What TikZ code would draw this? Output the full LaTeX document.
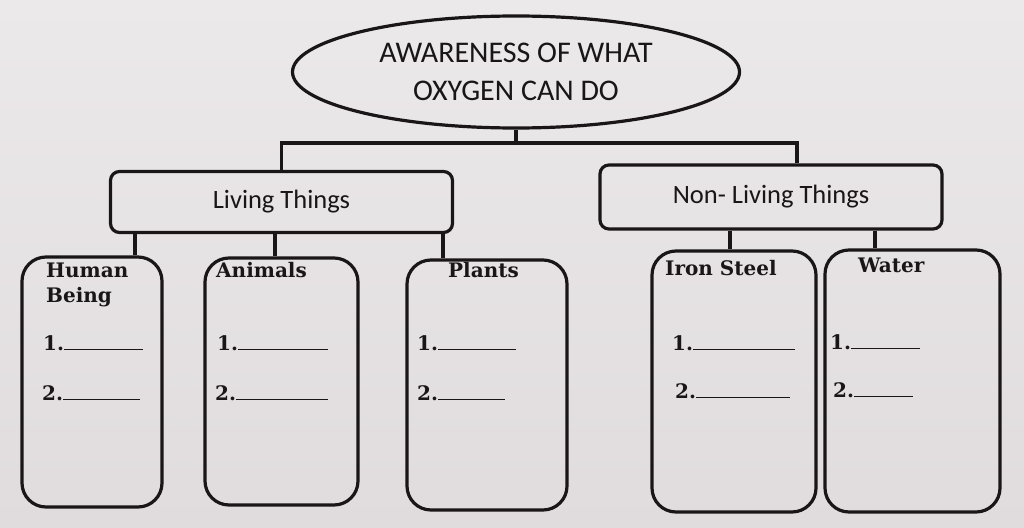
\documentclass[tikz,border=0pt]{standalone}
\usepackage{fontspec}
\usetikzlibrary{shapes.geometric}
\newfontfamily\calib{Carlito}
\newfontfamily\schb{DejaVu Serif Bold}
\definecolor{inkc}{RGB}{26,22,24}
\definecolor{bgtop}{RGB}{236,233,234}
\definecolor{bgbot}{RGB}{224,220,221}
\begin{document}
\begin{tikzpicture}[x=1pt,y=-1pt,
  link/.style={draw=inkc, line width=3.2pt},
  topnode/.style={ellipse, link, minimum width=447pt, minimum height=112pt, inner sep=0pt, align=center, text=inkc, font=\calib\fontsize{30}{38}\selectfont},
  catbox/.style={rectangle, rounded corners=9pt, link, minimum width=342pt, minimum height=61pt, inner sep=0pt, text=inkc, font=\calib\fontsize{26.5}{30}\selectfont},
  itembox/.style={rectangle, rounded corners=24pt, link, inner sep=0pt},
  lab/.style={anchor=base west, inner sep=0pt, align=left, text=inkc, font=\schb\fontsize{20}{25}\selectfont},
  blank/.style={anchor=base west, inner sep=0pt, text=inkc, font=\schb\fontsize{20}{22}\selectfont}
]
\shade[top color=bgtop, bottom color=bgbot] (0,0) rectangle (1024,527);
\useasboundingbox (0,0) rectangle (1024,527);

% top
\node[topnode] (top) at (516,72) {AWARENESS OF WHAT\\OXYGEN CAN DO};

% categories
\node[catbox] (living) at (281.5,202) {Living Things};
\node[catbox, minimum height=64pt] (nonliving) at (771,197) {Non- Living Things};

% item boxes
\node[itembox, minimum width=140pt, minimum height=250pt] (human) at (92,382) {};
\node[itembox, minimum width=153pt, minimum height=247pt] (animals) at (281.5,381.5) {};
\node[itembox, minimum width=160pt, minimum height=250pt] (plants) at (487,385) {};
\node[itembox, minimum width=164pt, minimum height=261pt] (iron) at (734,381.5) {};
\node[itembox, minimum width=175pt, minimum height=262pt] (water) at (912.5,381) {};

% connectors
\coordinate (bar) at (516,143);
\coordinate (nlx) at (797,0);
\draw[link] (top.south) -- (bar);
\draw[link] (living.north) |- (bar) -| (nlx |- nonliving.north);
\coordinate (c1) at (135,0);
\coordinate (c2) at (275,0);
\coordinate (c3) at (443,0);
\coordinate (c4) at (730,0);
\coordinate (c5) at (875,0);
\draw[link] (c1 |- living.south) -- (c1 |- human.north);
\draw[link] (c2 |- living.south) -- (c2 |- animals.north);
\draw[link] (c3 |- living.south) -- (c3 |- plants.north);
\draw[link] (c4 |- nonliving.south) -- (c4 |- iron.north);
\draw[link] (c5 |- nonliving.south) -- (c5 |- water.north);

% labels
\node[lab] (lhuman) at (46,302) {Human\\Being};
\node[lab] (lanimals) at (216,277) {Animals};
\node[lab] (lplants) at (448,277) {Plants};
\node[lab] (liron) at (665,275) {Iron Steel};
\node[lab] (lwater) at (858,272) {Water};

% blanks
\node[blank] (h1) at (43,350) {1.\rule{79pt}{1.3pt}};
\node[blank] (h2) at (42,400) {2.\rule{77pt}{1.3pt}};
\node[blank] (a1) at (217,350) {1.\rule{90pt}{1.3pt}};
\node[blank] (a2) at (215,400) {2.\rule{92pt}{1.3pt}};
\node[blank] (p1) at (417,350) {1.\rule{78pt}{1.3pt}};
\node[blank] (p2) at (417,400) {2.\rule{67pt}{1.3pt}};
\node[blank] (i1) at (672,350) {1.\rule{102pt}{1.3pt}};
\node[blank] (i2) at (675,398) {2.\rule{94pt}{1.3pt}};
\node[blank] (w1) at (830,349) {1.\rule{69pt}{1.3pt}};
\node[blank] (w2) at (833,397) {2.\rule{59pt}{1.3pt}};
\end{tikzpicture}
\end{document}
